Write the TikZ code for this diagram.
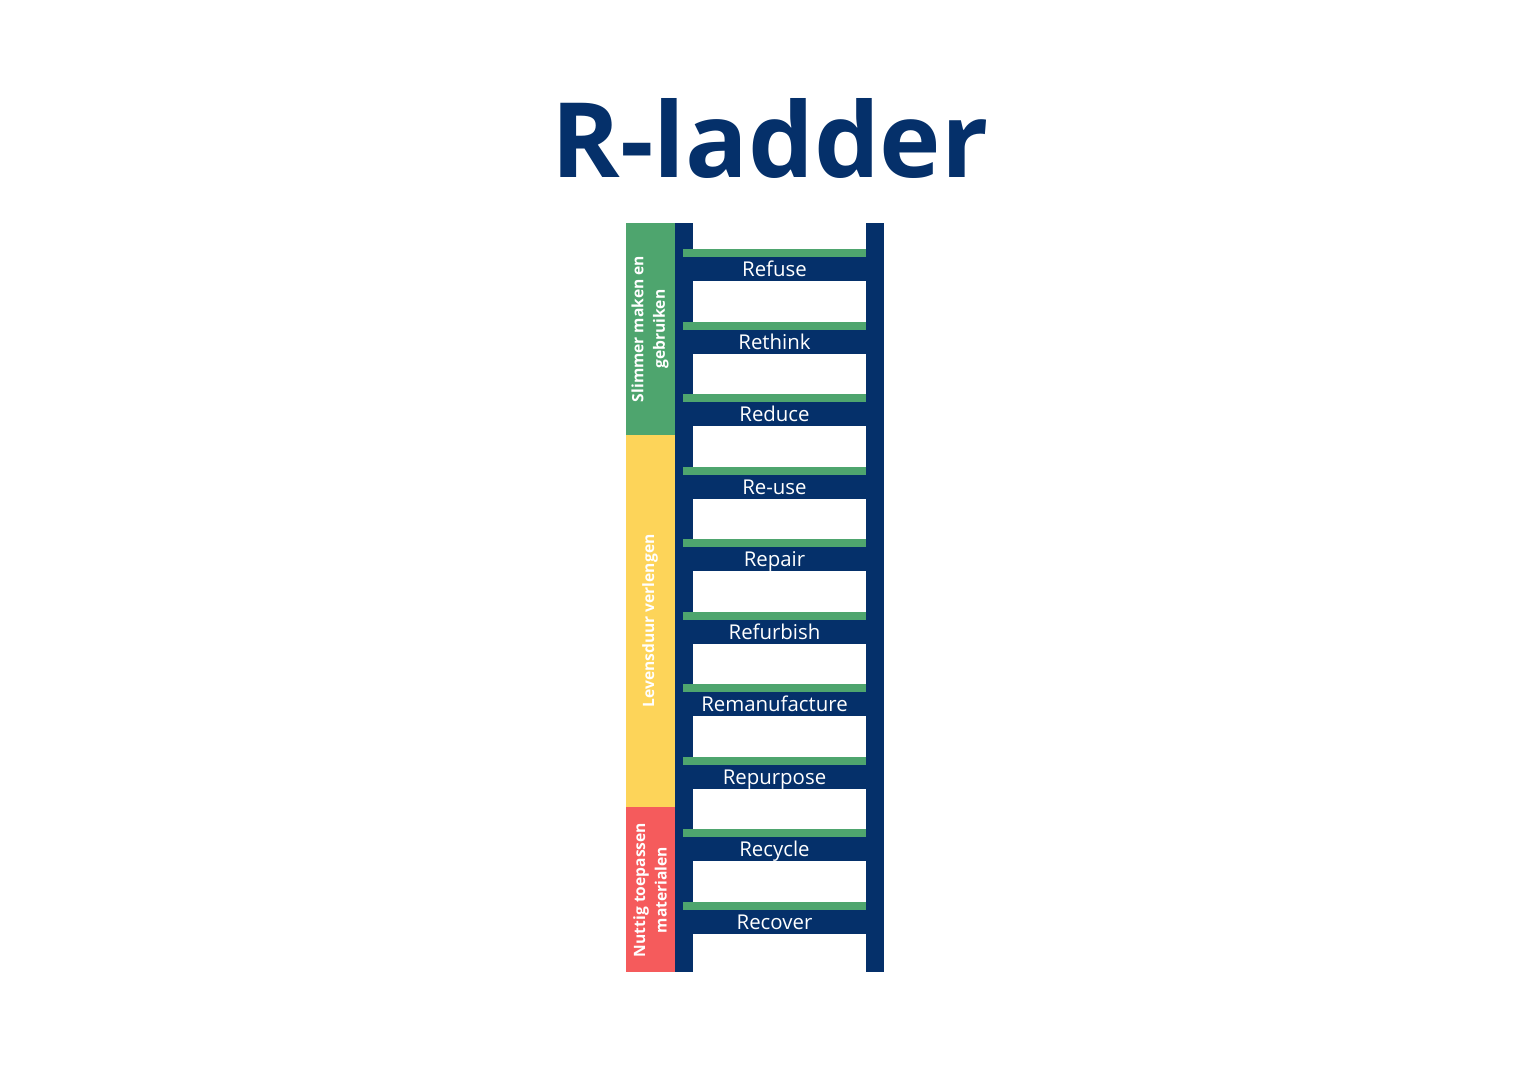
\documentclass[tikz,border=0pt]{standalone}
\usepackage{fontspec}
\setmainfont{Open Sans}
\definecolor{navy}{HTML}{05306A}
\definecolor{rgreen}{HTML}{4EA56E}
\definecolor{ryellow}{HTML}{FDD459}
\definecolor{rred}{HTML}{F55B5C}

\begin{document}
\begin{tikzpicture}[x=0.5pt,y=-0.5pt,
  rungtext/.style={anchor=base,text=white,font=\fontsize{10.2}{12}\selectfont},
  phasetext/.style={rotate=90,text=white,align=center,font=\fontsize{7.8}{10.8}\selectfont\bfseries}]
\useasboundingbox (0,0) rectangle (1536,1075);

%title
\node[anchor=base,text=navy,font=\fontsize{52}{60}\selectfont\bfseries] (title) at (770,178) {R-ladder};

%coloured bars on the left
\fill[rgreen] (626,223) rectangle (675,435);
\fill[ryellow] (626,435) rectangle (675,807);
\fill[rred] (626,807) rectangle (675,972);

%rails
\fill[navy] (675,223) rectangle (693,972);
\fill[navy] (866,223) rectangle (884,972);

%rungs with green top edge and label
\foreach \lbl [count=\i from 0] in {Refuse,Rethink,Reduce,Re-use,Repair,Refurbish,Remanufacture,Repurpose,Recycle,Recover}{
  \pgfmathsetmacro{\y}{249+72.5*\i}
  \fill[navy] (675,\y+8) rectangle (866,\y+32);
  \fill[rgreen] (683,\y) rectangle (866,\y+8);
  \node[rungtext] (rung\i) at (774.5,\y+27.5) {\lbl};
}

%phase labels
\node[phasetext] (smart) at (650,329) {Slimmer maken en\\gebruiken};
\node[phasetext] (life) at (650,621) {Levensduur verlengen};
\node[phasetext] (useful) at (650,890) {Nuttig toepassen\\materialen};
\end{tikzpicture}
\end{document}
